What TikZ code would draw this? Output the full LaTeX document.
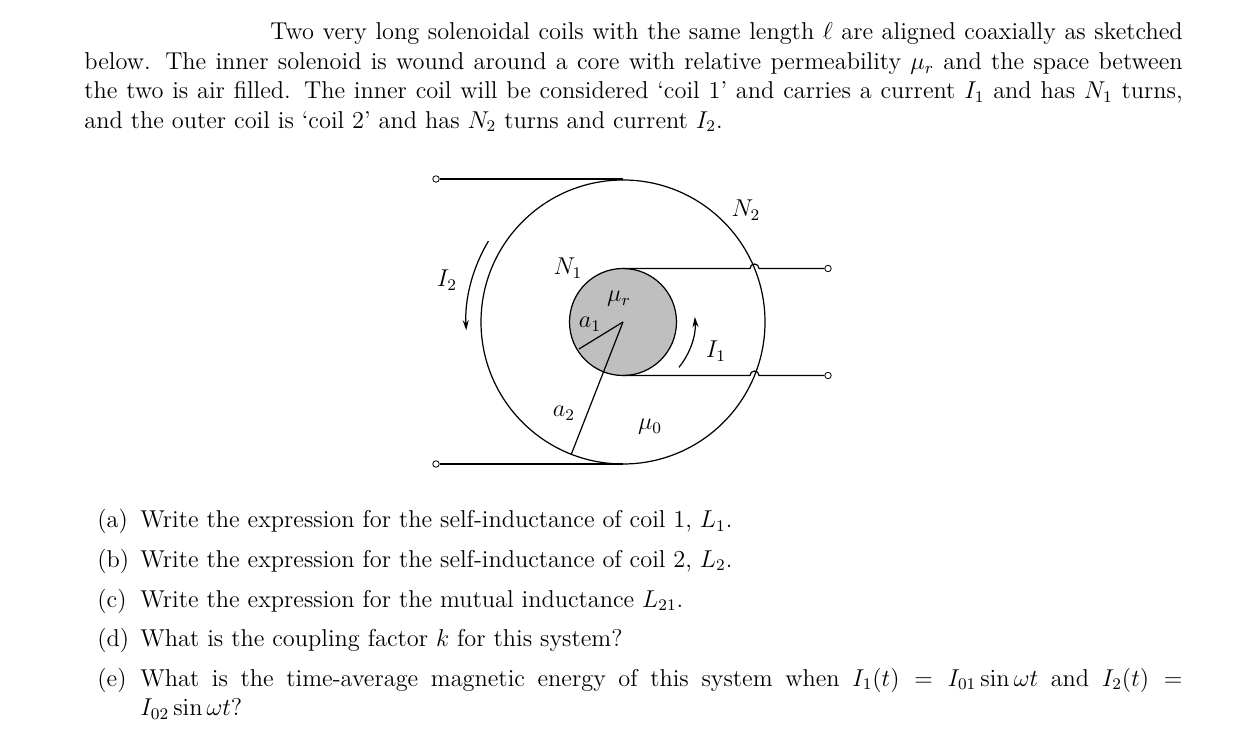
\documentclass[tikz,border=0pt]{standalone}
\usetikzlibrary{arrows.meta}
\begin{document}
\begin{tikzpicture}[x=0.4926pt,y=-0.4926pt,
  txt/.style={anchor=base west,inner sep=0pt,font=\fontsize{12}{14.5}\selectfont},
  wire/.style={line width=0.6pt},
  term/.style={circle,draw,fill=white,inner sep=0pt,minimum size=3.2pt},
  lab/.style={font=\fontsize{12}{14.5}\selectfont,inner sep=0pt},
  cur/.style={line width=0.6pt,-{Stealth[length=5pt,width=3pt]}}]
\useasboundingbox (0,0) rectangle (1257,731);
\node[txt,text width=541pt,align=justify] (para) at (84,40) {\hspace*{91.6pt}Two very long solenoidal coils with the same length $\ell$ are aligned coaxially as sketched\linebreak
below. The inner solenoid is wound around a core with relative permeability $\mu_r$ and the space between\linebreak
the two is air filled. The inner coil will be considered `coil 1' and carries a current $I_1$ and has $N_1$ turns,\linebreak
and the outer coil is `coil 2' and has $N_2$ turns and current $I_2$.};
% diagram
\coordinate (c) at (623,322);
\draw[wire] (c) circle[radius=142];
\draw[wire,fill=gray!50] (c) circle[radius=53.5];
\node[term] (t1) at (436,179) {};
\node[term] (t2) at (436,464) {};
\node[term] (t3) at (828,268.5) {};
\node[term] (t4) at (828,375.5) {};
\draw[wire] (t1) -- (623,179);
\draw[wire] (t2) -- (623,464);
\draw[wire] (623,268.5) -- (750,268.5) arc[start angle=180,end angle=360,radius=4.5] -- (t3);
\draw[wire] (623,375.5) -- (750,375.5) arc[start angle=180,end angle=360,radius=4.5] -- (t4);
\draw[wire] (c) -- (579,349);
\draw[wire] (c) -- (571,455);
\draw[cur] ([shift={(211:157)}]c) arc[start angle=211,end angle=177,radius=157];
\draw[cur] ([shift={(39:72)}]c) arc[start angle=39,end angle=-4,radius=72];
\node[lab] (n2) at (746,210) {$N_2$};
\node[lab] (n1) at (568,268) {$N_1$};
\node[lab] (i2) at (447,280) {$I_2$};
\node[lab] (mur) at (619,299) {$\mu_r$};
\node[lab] (a1) at (590,324) {$a_1$};
\node[lab] (i1) at (716,351) {$I_1$};
\node[lab] (a2) at (564,413) {$a_2$};
\node[lab] (mu0) at (650,427) {$\mu_0$};
% items
\node[txt] (la) at (97,528) {(a)};
\node[txt] (ta) at (140,528) {Write the expression for the self-inductance of coil 1, $L_1$.};
\node[txt] (lb) at (97,567) {(b)};
\node[txt] (tb) at (140,567) {Write the expression for the self-inductance of coil 2, $L_2$.};
\node[txt] (lc) at (97,607) {(c)};
\node[txt] (tc) at (140,607) {Write the expression for the mutual inductance $L_{21}$.};
\node[txt] (ld) at (97,646) {(d)};
\node[txt] (td) at (140,646) {What is the coupling factor $k$ for this system?};
\node[txt] (le) at (97,686) {(e)};
\node[txt,text width=513.3pt,align=justify] (te) at (140,686) {What is the time-average magnetic energy of this system when $I_1(t)=I_{01}\sin\omega t$ and $I_2(t)=$\linebreak $I_{02}\sin\omega t$?};
\end{tikzpicture}
\end{document}
